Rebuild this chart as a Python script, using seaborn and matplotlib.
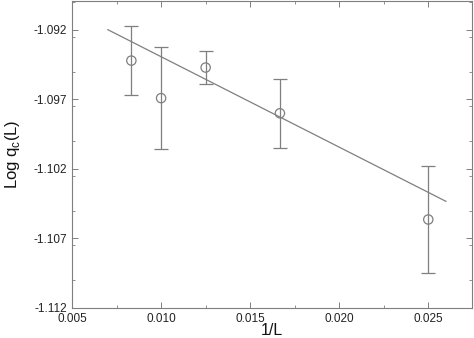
import matplotlib
matplotlib.use("Agg")
import matplotlib.pyplot as plt
import seaborn as sns
import numpy as np
import pandas as pd
from matplotlib.ticker import MultipleLocator, FormatStrFormatter

inv_L = [0.00833, 0.0100, 0.0125, 0.01667, 0.0250]
log_qc = [-1.09421, -1.09691, -1.09471, -1.0980, -1.10564]
err = [0.0025, 0.00367, 0.00118, 0.00248, 0.00385]
fit_x = [0.0070, 0.0260]
fit_y = [-1.09198, -1.10434]
x_ticks = [0.005, 0.010, 0.015, 0.020, 0.025]
y_ticks = [-1.112, -1.107, -1.102, -1.097, -1.092]

sns.set_theme(style="ticks")
plt.rcParams['font.family'] = ['Liberation Sans', 'DejaVu Sans']

fig = plt.figure(figsize=(4.74, 3.38), dpi=100)
ax = fig.add_axes([0.152, 0.089, 0.844, 0.909])

gray = "#7f7f7f"
df = pd.DataFrame({"x": inv_L, "y": log_qc, "e": err})
fit = pd.DataFrame({"x": fit_x, "y": fit_y})

sns.lineplot(data=fit, x="x", y="y", ax=ax, color=gray, lw=0.9)
ax.errorbar(df["x"], df["y"], yerr=df["e"], fmt="none", ecolor=gray,
            elinewidth=0.9, capsize=5, capthick=0.9)
sns.scatterplot(data=df, x="x", y="y", ax=ax, marker="o", s=45,
                facecolor="none", edgecolor=gray, linewidth=0.9, zorder=5)

ax.set_xlim(0.005, 0.02746)
ax.set_ylim(-1.112, -1.0899)
ax.set_xticks(x_ticks)
ax.set_yticks(y_ticks)
ax.xaxis.set_major_formatter(FormatStrFormatter('%.3f'))
ax.yaxis.set_major_formatter(FormatStrFormatter('%.3f'))
ax.xaxis.set_minor_locator(MultipleLocator(0.0025))
ax.yaxis.set_minor_locator(MultipleLocator(0.0025))
ax.tick_params(which="both", direction="in", top=True, right=True,
               color=gray, labelsize=8.5, labelcolor="#222222")
ax.tick_params(which="major", length=4, width=0.7)
ax.tick_params(which="minor", length=2, width=0.6)
for s in ax.spines.values():
    s.set_color(gray)
    s.set_linewidth(0.8)

ax.set_xlabel("1/L", fontsize=11.5, labelpad=-1.5, color="#111111")
ax.set_ylabel(r"Log q$_\mathregular{c}$(L)", fontsize=12, labelpad=8, color="#111111")

fig.savefig("out.png", dpi=100)
